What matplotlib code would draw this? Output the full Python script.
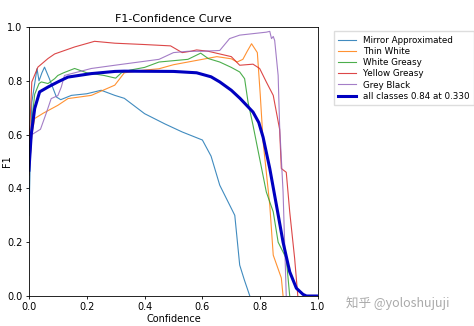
import matplotlib
matplotlib.use('Agg')
import matplotlib.pyplot as plt
import numpy as np

plt.rcParams['font.family'] = ['DejaVu Sans', 'Noto Sans CJK SC']

names = ['Mirror Approximated', 'Thin White', 'White Greasy', 'Yellow Greasy', 'Grey Black']

# 每条曲线 (confidence, F1)
mirror_x = [0.0, 0.01, 0.02, 0.028, 0.035, 0.045, 0.054, 0.07, 0.095, 0.11, 0.147, 0.2, 0.25, 0.297, 0.33,
            0.4, 0.47, 0.53, 0.6, 0.63, 0.66, 0.712, 0.729, 0.745, 0.764]
mirror_y = [0.3, 0.72, 0.79, 0.845, 0.80, 0.83, 0.851, 0.81, 0.74, 0.73, 0.746, 0.752, 0.765, 0.746, 0.735,
            0.678, 0.64, 0.61, 0.58, 0.52, 0.412, 0.3, 0.115, 0.06, 0.0]

thin_x = [0.0, 0.01, 0.02, 0.05, 0.1, 0.135, 0.216, 0.297, 0.33, 0.4, 0.45, 0.5, 0.55, 0.6, 0.65,
          0.7, 0.72, 0.74, 0.755, 0.77, 0.79, 0.80, 0.81, 0.833, 0.845, 0.873, 0.879]
thin_y = [0.45, 0.6, 0.66, 0.68, 0.709, 0.734, 0.746, 0.784, 0.83, 0.84, 0.845, 0.86, 0.87, 0.88, 0.89,
          0.882, 0.87, 0.88, 0.91, 0.938, 0.905, 0.75, 0.573, 0.338, 0.152, 0.067, 0.0]

green_x = [0.0, 0.01, 0.02, 0.035, 0.043, 0.066, 0.089, 0.1, 0.12, 0.158, 0.2, 0.26, 0.3, 0.32, 0.35, 0.4,
           0.45, 0.5, 0.55, 0.594, 0.62, 0.66, 0.7, 0.729, 0.746, 0.758, 0.775, 0.798, 0.821, 0.845,
           0.862, 0.89, 0.902]
green_y = [0.45, 0.65, 0.75, 0.79, 0.796, 0.79, 0.808, 0.82, 0.83, 0.846, 0.83, 0.82, 0.81, 0.83, 0.84, 0.85,
           0.87, 0.875, 0.88, 0.903, 0.883, 0.87, 0.85, 0.833, 0.808, 0.72, 0.635, 0.511, 0.387, 0.313,
           0.2, 0.14, 0.0]

red_x = [0.0, 0.01, 0.031, 0.066, 0.089, 0.158, 0.227, 0.297, 0.4, 0.49, 0.53, 0.56, 0.58, 0.62, 0.66,
         0.7, 0.718, 0.729, 0.775, 0.798, 0.821, 0.845, 0.867, 0.873, 0.89, 0.902, 0.919, 0.93]
red_y = [0.55, 0.796, 0.851, 0.883, 0.90, 0.926, 0.947, 0.94, 0.935, 0.93, 0.905, 0.91, 0.915,
         0.91, 0.90, 0.89, 0.87, 0.858, 0.862, 0.846, 0.796, 0.746, 0.62, 0.474, 0.46, 0.313, 0.14, 0.0]

grey_x = [0.0, 0.01, 0.04, 0.06, 0.077, 0.1, 0.112, 0.123, 0.216, 0.297, 0.45, 0.5, 0.55, 0.6, 0.66,
          0.694, 0.729, 0.821, 0.833, 0.839, 0.845, 0.85, 0.862, 0.867, 0.879, 0.89]
grey_y = [0.45, 0.6, 0.62, 0.68, 0.734, 0.745, 0.777, 0.82, 0.846, 0.858, 0.88, 0.905, 0.91, 0.91, 0.913,
          0.957, 0.97, 0.981, 0.984, 0.957, 0.965, 0.95, 0.82, 0.635, 0.387, 0.0]

all_x = [0.0, 0.008, 0.02, 0.037, 0.066, 0.1, 0.135, 0.216, 0.297, 0.33, 0.5, 0.58, 0.63, 0.66, 0.7, 0.73,
         0.775, 0.795, 0.81, 0.833, 0.856, 0.879, 0.902, 0.925, 0.948, 0.96, 1.0]
all_y = [0.468, 0.6, 0.697, 0.759, 0.777, 0.796, 0.814, 0.827, 0.835, 0.836, 0.835, 0.83, 0.815, 0.796,
         0.765, 0.735, 0.684, 0.645, 0.59, 0.474, 0.338, 0.2, 0.09, 0.029, 0.006, 0.0, 0.0]
all_label = 'all classes 0.84 at 0.330'

curves = [(mirror_x, mirror_y), (thin_x, thin_y), (green_x, green_y), (red_x, red_y), (grey_x, grey_y)]

fig = plt.figure(figsize=(4.74, 3.26), dpi=100)
ax = fig.add_axes([0.061, 0.092, 0.61, 0.825])
for (x, y), n in zip(curves, names):
    ax.plot(x, y, linewidth=0.8, label=n, alpha=0.85)
ax.plot(all_x, all_y, linewidth=2.2, color='#0000c0', label=all_label)

ax.set_xlim(0, 1)
ax.set_ylim(0, 1)
ax.set_xticks([0, 0.2, 0.4, 0.6, 0.8, 1.0])
ax.set_yticks([0, 0.2, 0.4, 0.6, 0.8, 1.0])
ax.tick_params(labelsize=7, length=2.5, width=0.6, pad=2)
for s in ax.spines.values():
    s.set_linewidth(0.6)
ax.set_xlabel('Confidence', fontsize=7, labelpad=1)
ax.set_ylabel('F1', fontsize=7)
ax.yaxis.set_label_coords(-0.06, 0.5)
ax.set_title('F1-Confidence Curve', fontsize=8, pad=4)
ax.legend(bbox_to_anchor=(1.04, 1.0), loc='upper left', fontsize=6.3, handlelength=2.0,
          borderpad=0.5, labelspacing=0.25, framealpha=1, edgecolor='#dddddd', fancybox=False)

fig.text(0.73, 0.07, '知乎 @yoloshujuji', fontsize=9, color='#aaaaaa',
         family=['Noto Sans CJK SC', 'DejaVu Sans'], va='center')

fig.savefig('out.png', dpi=100)
